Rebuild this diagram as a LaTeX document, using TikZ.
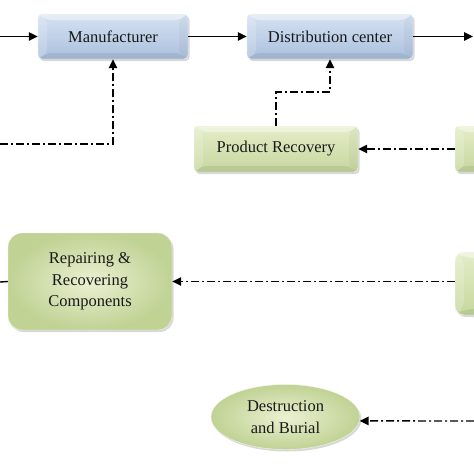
\documentclass[tikz,border=0pt]{standalone}
\usepackage{fontspec}
\setmainfont{Liberation Serif}
\usetikzlibrary{arrows.meta,shadows,shapes.geometric,calc}
\definecolor{bluetop}{RGB}{214,226,242}
\definecolor{bluebot}{RGB}{170,192,222}
\definecolor{greentop}{RGB}{228,237,200}
\definecolor{greenbot}{RGB}{198,215,158}
\definecolor{greenin}{RGB}{234,241,210}
\definecolor{greenout}{RGB}{192,210,148}
\definecolor{txt}{RGB}{25,25,25}
\tikzset{
  x=1pt, y=1pt,
  bevel/.style={path picture={
    \coordinate (bnw) at (path picture bounding box.north west);
    \coordinate (bne) at (path picture bounding box.north east);
    \coordinate (bsw) at (path picture bounding box.south west);
    \coordinate (bse) at (path picture bounding box.south east);
    \fill[white,opacity=0.40] (bnw) -- (bne) -- ($(bne)+(-9pt,-6pt)$) -- ($(bnw)+(9pt,-6pt)$) -- cycle;
    \fill[black,opacity=0.07] (bsw) -- (bse) -- ($(bse)+(-9pt,6pt)$) -- ($(bsw)+(9pt,6pt)$) -- cycle;
    \fill[white,opacity=0.18] (bnw) -- (bsw) -- ($(bsw)+(9pt,6pt)$) -- ($(bnw)+(9pt,-6pt)$) -- cycle;
    \fill[black,opacity=0.03] (bne) -- (bse) -- ($(bse)+(-9pt,6pt)$) -- ($(bne)+(-9pt,-6pt)$) -- cycle;
  }},
  boxbase/.style={rectangle, rounded corners=4pt, inner sep=0pt, align=center,
    font=\fontsize{16.5}{21.5}\selectfont, text=txt,
    drop shadow={opacity=0.30, shadow xshift=1.5pt, shadow yshift=-2pt}},
  bluebox/.style={boxbase, top color=bluetop, bottom color=bluebot, bevel,
    draw=white!85!bluebot, line width=0.4pt},
  greenbox/.style={boxbase, top color=greentop, bottom color=greenbot, bevel,
    draw=white!85!greenbot, line width=0.4pt},
  roundgreen/.style={boxbase, rounded corners=14pt, inner color=greenin, outer color=greenout,
    draw=white!80!greenout, line width=0.4pt},
  ellgreen/.style={ellipse, inner sep=0pt, align=center,
    font=\fontsize{16.5}{21.5}\selectfont, text=txt,
    inner color=greenin, outer color=greenout, draw=white!80!greenout, line width=0.4pt,
    drop shadow={opacity=0.30, shadow xshift=1.5pt, shadow yshift=-2pt}},
  conn/.style={line width=1.4pt, -{Triangle[length=9pt,width=8.5pt]}},
  plain/.style={line width=1.4pt},
  dd/.style={conn, dash pattern=on 8pt off 3pt on 2pt off 3pt},
}
\begin{document}
\begin{tikzpicture}
\useasboundingbox (0,0) rectangle (474,-474);
\clip (0,0) rectangle (474,-474);
\fill[white] (0,0) rectangle (474,-474);

% nodes
\node[bluebox, minimum width=150pt, minimum height=45pt] (man) at (113,-36.5) {Manufacturer};
\node[bluebox, minimum width=166pt, minimum height=45pt] (dc) at (330,-36.5) {Distribution center};
\node[greenbox, minimum width=164pt, minimum height=46pt] (pr) at (276,-149) {Product Recovery};
\node[greenbox, minimum width=160pt, minimum height=46pt] (r1) at (535,-149) {};
\node[roundgreen, minimum width=164pt, minimum height=97pt] (rep) at (90,-281.5) {Repairing \&\\Recovering\\Components};
\node[greenbox, rounded corners=9pt, minimum width=160pt, minimum height=63pt] (r2) at (535,-283.5) {};
\node[ellgreen, minimum width=149pt, minimum height=65pt] (db) at (285.5,-417) {Destruction\\and Burial};

% free ends
\coordinate (inL) at (0,-36.5);
\coordinate (outR) at (473,-36.5);
\coordinate (retL) at (0,-144);
\coordinate (repL) at (0,-282);
\coordinate (dbR) at (474,-421);

% connectors
\draw[conn] (inL) -- (man.west);
\draw[conn] (man.east) -- (dc.west);
\draw[conn] (dc.east) -- (outR);
\draw[dd] (retL) -| (man.south);
\draw[dd] (pr.north) -- ++(0,34) -| (dc.south);
\draw[dd] (r1.west) -- (pr.east);
\draw[dd] (r2.west |- rep.east) -- (rep.east);
\draw[plain] (repL) -- (rep.west);
\draw[dd] (dbR) -- (db.-3);
\end{tikzpicture}
\end{document}
